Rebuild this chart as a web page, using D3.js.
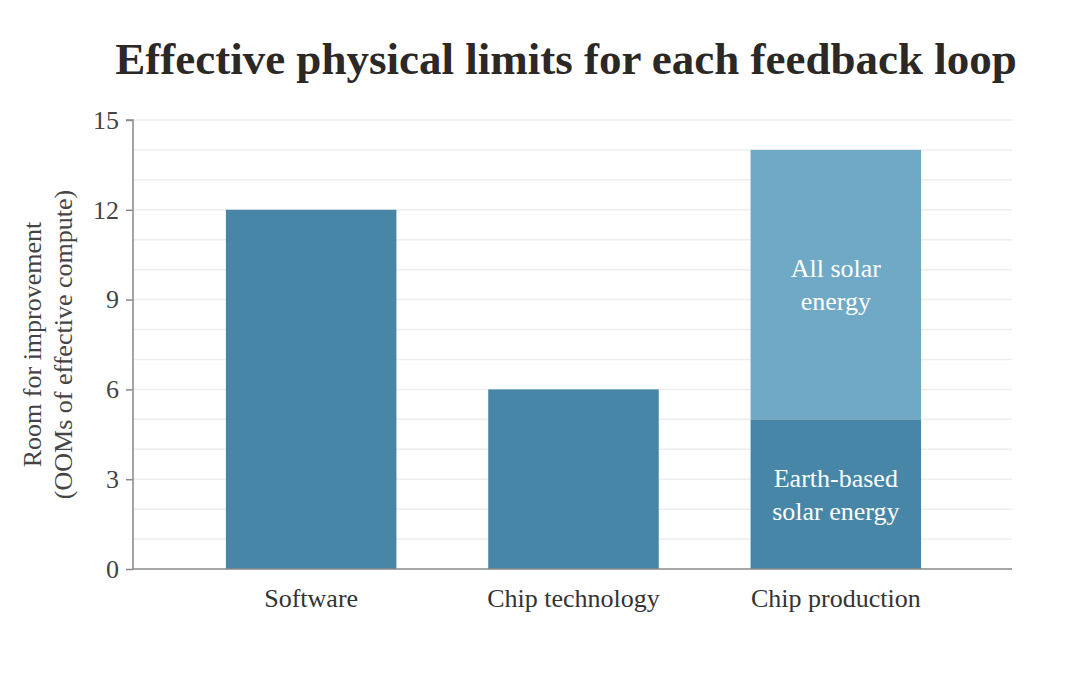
<!DOCTYPE html>
<html><head><meta charset="utf-8">
<script src="https://cdn.jsdelivr.net/npm/d3@7"></script>
<style>body{margin:0;background:#fff}svg{display:block}text{font-family:"Liberation Serif","DejaVu Serif",serif}</style>
</head><body>
<script>
const categories = ["Software", "Chip technology", "Chip production"];
const baseValues = [12, 6, 5];          // dark segment
const extraValues = [0, 0, 9];          // light segment stacked on top
const yTicks = [0, 3, 6, 9, 12, 15];
const gridValues = d3.range(0, 16);
const title = "Effective physical limits for each feedback loop";
const yTitle = ["Room for improvement", "(OOMs of effective compute)"];
const baseLabel = ["Earth-based", "solar energy"];
const extraLabel = ["All solar", "energy"];

const W = 1080, H = 677;
const svg = d3.select("body").append("svg").attr("width", W).attr("height", H);

const x = d3.scaleBand().domain(categories).range([180, 967]).paddingInner(0.35).paddingOuter(0.175);
const y = d3.scaleLinear().domain([0, 15]).range([569, 120]);
const xLeft = 133, xRight = 1012;

// gridlines
svg.append("g").selectAll("line").data(gridValues.filter(d => d > 0)).join("line")
  .attr("x1", xLeft).attr("x2", xRight).attr("y1", d => y(d)).attr("y2", d => y(d))
  .attr("stroke", "#eeeeee").attr("stroke-width", 1.5);

// bars
const data = categories.map((c, i) => ({c, base: baseValues[i], extra: extraValues[i]}));
svg.append("g").selectAll("rect").data(data).join("rect")
  .attr("x", d => x(d.c)).attr("width", x.bandwidth())
  .attr("y", d => y(d.base)).attr("height", d => y(0) - y(d.base))
  .attr("fill", "#4886a8");
svg.append("g").selectAll("rect").data(data.filter(d => d.extra > 0)).join("rect")
  .attr("x", d => x(d.c)).attr("width", x.bandwidth())
  .attr("y", d => y(d.base + d.extra)).attr("height", d => y(d.base) - y(d.base + d.extra))
  .attr("fill", "#6fa9c5");

// in-bar labels
const prod = data[2];
const cx = x(prod.c) + x.bandwidth() / 2;
function multiline(lines, midVal) {
  const t = svg.append("text").attr("text-anchor", "middle").attr("fill", "#fff").attr("font-size", 26);
  const yc = y(midVal);
  lines.forEach((l, i) => {
    t.append("tspan").attr("x", cx).attr("y", yc + (i - (lines.length - 1) / 2) * 33 + 9).text(l);
  });
}
multiline(baseLabel, 2.5);
multiline(extraLabel, 9.5);

// y axis
const yAxis = svg.append("g").attr("transform", `translate(${xLeft},0)`)
  .call(d3.axisLeft(y).tickValues(yTicks).tickSize(7).tickPadding(7));
yAxis.select(".domain").attr("stroke", "#888").attr("stroke-width", 1.5).attr("d", `M-7,${y(15)}H0V${y(0)}`);
yAxis.selectAll(".tick line").attr("stroke", "#888").attr("stroke-width", 1.5);
yAxis.selectAll(".tick text").attr("font-size", 26).attr("fill", "#444").attr("font-family", "Liberation Serif, serif");

// x axis baseline
const xAxis = svg.append("g").attr("transform", `translate(0,${y(0)})`)
  .call(d3.axisBottom(x).tickSize(0).tickPadding(20));
xAxis.select(".domain").attr("stroke", "#888").attr("stroke-width", 1.5).attr("d", `M${xLeft},0H${xRight}`);
xAxis.selectAll(".tick text").attr("font-size", 26).attr("fill", "#333").attr("font-family", "Liberation Serif, serif");

// y title
const yt = svg.append("text").attr("transform", `translate(0,${(y(0) + y(15)) / 2}) rotate(-90)`)
  .attr("text-anchor", "middle").attr("font-size", 26).attr("fill", "#444");
yTitle.forEach((l, i) => yt.append("tspan").attr("x", 0).attr("y", 41 + i * 31).text(l));

// title
svg.append("text").attr("x", 566).attr("y", 74).attr("text-anchor", "middle")
  .attr("font-size", 45).attr("font-weight", "bold").attr("fill", "#2b2826").text(title);
</script>
</body></html>
